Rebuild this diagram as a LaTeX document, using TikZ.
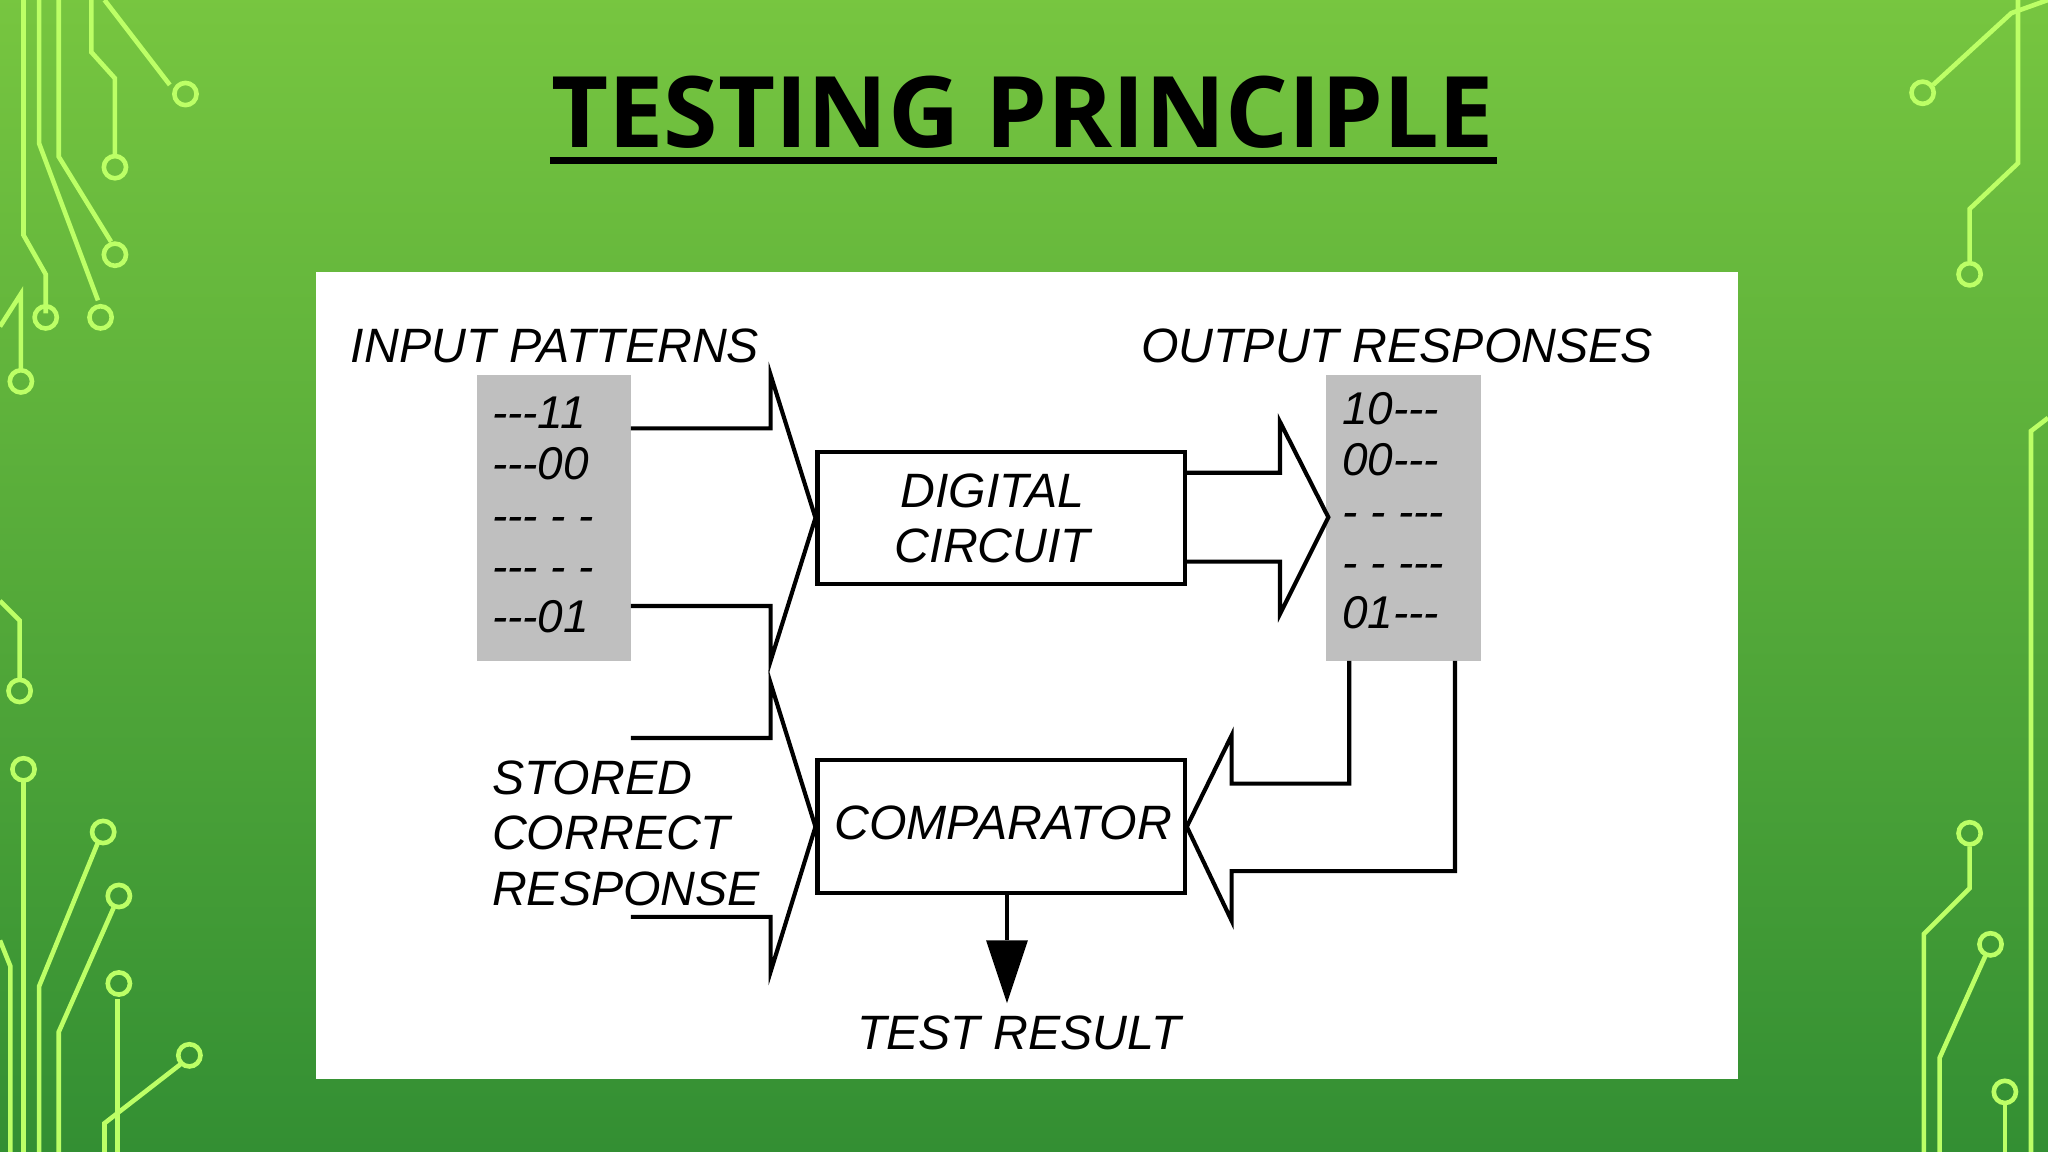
\documentclass[tikz,border=0pt]{standalone}
\usepackage{fontspec}
\setmainfont{Liberation Sans}
\newfontfamily\titlefont{Open Sans}
\begin{document}
\begin{tikzpicture}[x=0.01cm,y=-0.01cm,
  ln/.style={line width=0.9pt,line join=miter},
  trace/.style={draw=green!25!lime!60!white,line width=1pt},
  pad/.style={circle,draw=green!25!lime!60!white,line width=1pt,inner sep=0pt,minimum size=0.17cm},
  lbl/.style={font=\fontsize{10.5}{12}\selectfont\itshape,inner sep=0pt},
  row/.style={font=\fontsize{10}{12}\selectfont\itshape,inner sep=0pt,anchor=base west}]
\useasboundingbox (0,0) rectangle (1568,882);
\shade[top color=green!45!lime!70!black!75!white, bottom color=green!45!black!80] (0,0) rectangle (1568,882);
% circuit traces
\draw[trace] (18,0)--(18,180)--(35,210)--(35,240); \node[pad] at (35,243){};
\draw[trace] (30,0)--(30,110)--(75,230); \node[pad] at (77,243){};
\draw[trace] (70,0)--(70,40)--(88,60)--(88,120); \node[pad] at (88,128){};
\draw[trace] (80,0)--(130,65); \node[pad] at (142,72){};
\draw[trace] (45,0)--(45,120)--(85,185); \node[pad] at (88,195){};
\draw[trace] (0,250)--(16,225)--(16,283); \node[pad] at (16,292){};
\draw[trace] (0,460)--(15,475)--(15,520); \node[pad] at (15,529){};
\draw[trace] (18,598)--(18,882); \node[pad] at (18,589){};
\draw[trace] (30,882)--(30,755)--(75,645); \node[pad] at (79,637){};
\draw[trace] (45,882)--(45,790)--(87,695); \node[pad] at (91,686){};
\draw[trace] (90,765)--(90,882); \node[pad] at (91,753){};
\draw[trace] (80,882)--(80,860)--(138,815); \node[pad] at (145,808){};
\draw[trace] (0,720)--(8,740)--(8,882);
\draw[trace] (1568,0)--(1540,10)--(1480,65); \node[pad] at (1472,71){};
\draw[trace] (1545,0)--(1545,125)--(1508,160)--(1508,200); \node[pad] at (1508,210){};
\draw[trace] (1568,320)--(1555,330)--(1555,882);
\draw[trace] (1508,648)--(1508,680)--(1473,715)--(1473,882); \node[pad] at (1508,638){};
\draw[trace] (1520,732)--(1485,810)--(1485,882); \node[pad] at (1524,723){};
\draw[trace] (1535,845)--(1535,882); \node[pad] at (1535,836){};
% title
\node[font=\titlefont\fontsize{21.5}{24}\selectfont\bfseries,inner sep=0pt] (title) at (783,86) {TESTING PRINCIPLE};
\draw[line width=1.6pt] (421,123)--(1146,123);
% panel
\fill[white] (242,208) rectangle (1331,826);
% grey boxes
\fill[black!25] (365,287) rectangle (483,506);
\fill[black!25] (1015,287) rectangle (1134,506);
\node[lbl,anchor=west] (inp) at (268,265) {INPUT PATTERNS};
\node[lbl,anchor=west] (outp) at (873,265) {OUTPUT RESPONSES};
\node[row] at (376,328) {-{}-{}-11};
\node[row] at (376,367) {-{}-{}-00};
\node[row] at (376,407) {-{}-{}- - -};
\node[row] at (376,446) {-{}-{}- - -};
\node[row] at (376,484) {-{}-{}-01};
\node[row] at (1027,325) {10-{}-{}-};
\node[row] at (1027,364) {00-{}-{}-};
\node[row] at (1027,404) {- - -{}-{}-};
\node[row] at (1027,443) {- - -{}-{}-};
\node[row] at (1027,481) {01-{}-{}-};
% boxes
\node[ln,draw,minimum width=2.81cm,minimum height=1.01cm,inner sep=0pt] (dc) at (766.5,396.5) {};
\node[lbl,align=center] at (760,397) {\fontsize{10.5}{15}\selectfont DIGITAL\\CIRCUIT};
\node[ln,draw,minimum width=2.81cm,minimum height=1.02cm,inner sep=0pt] (cmp) at (766.5,633) {};
\node[lbl] at (768,630) {COMPARATOR};
% input arrow 1
\draw[ln] (483,328)--(590,328)--(590,287)--(dc.west)--(590,506)--(590,464)--(483,464);
% output arrow
\draw[ln] (907,362)--(980,362)--(980,323)--(1017,396)--(980,470)--(980,430)--(907,430);
% stored response arrow
\draw[ln] (483,565)--(590,565)--(590,523)--(cmp.west)--(590,744)--(590,702)--(483,702);
\node[lbl,align=left,anchor=west] (st) at (376,638) {\fontsize{10.5}{12.4}\selectfont STORED\\CORRECT\\RESPONSE};
% feedback arrow
\draw[ln] (1033,506)--(1033,600)--(943,600)--(943,563)--(cmp.east)--(943,705)--(943,667)--(1114,667)--(1114,506);
% test result
\coordinate (cs) at (771,684);
\coordinate (tr) at (771,768);
\draw[ln] (cs)--(771,720);
\fill (755,720)--(787,720)--(tr)--cycle;
\node[lbl] (res) at (780,791) {TEST RESULT};
\end{tikzpicture}
\end{document}
